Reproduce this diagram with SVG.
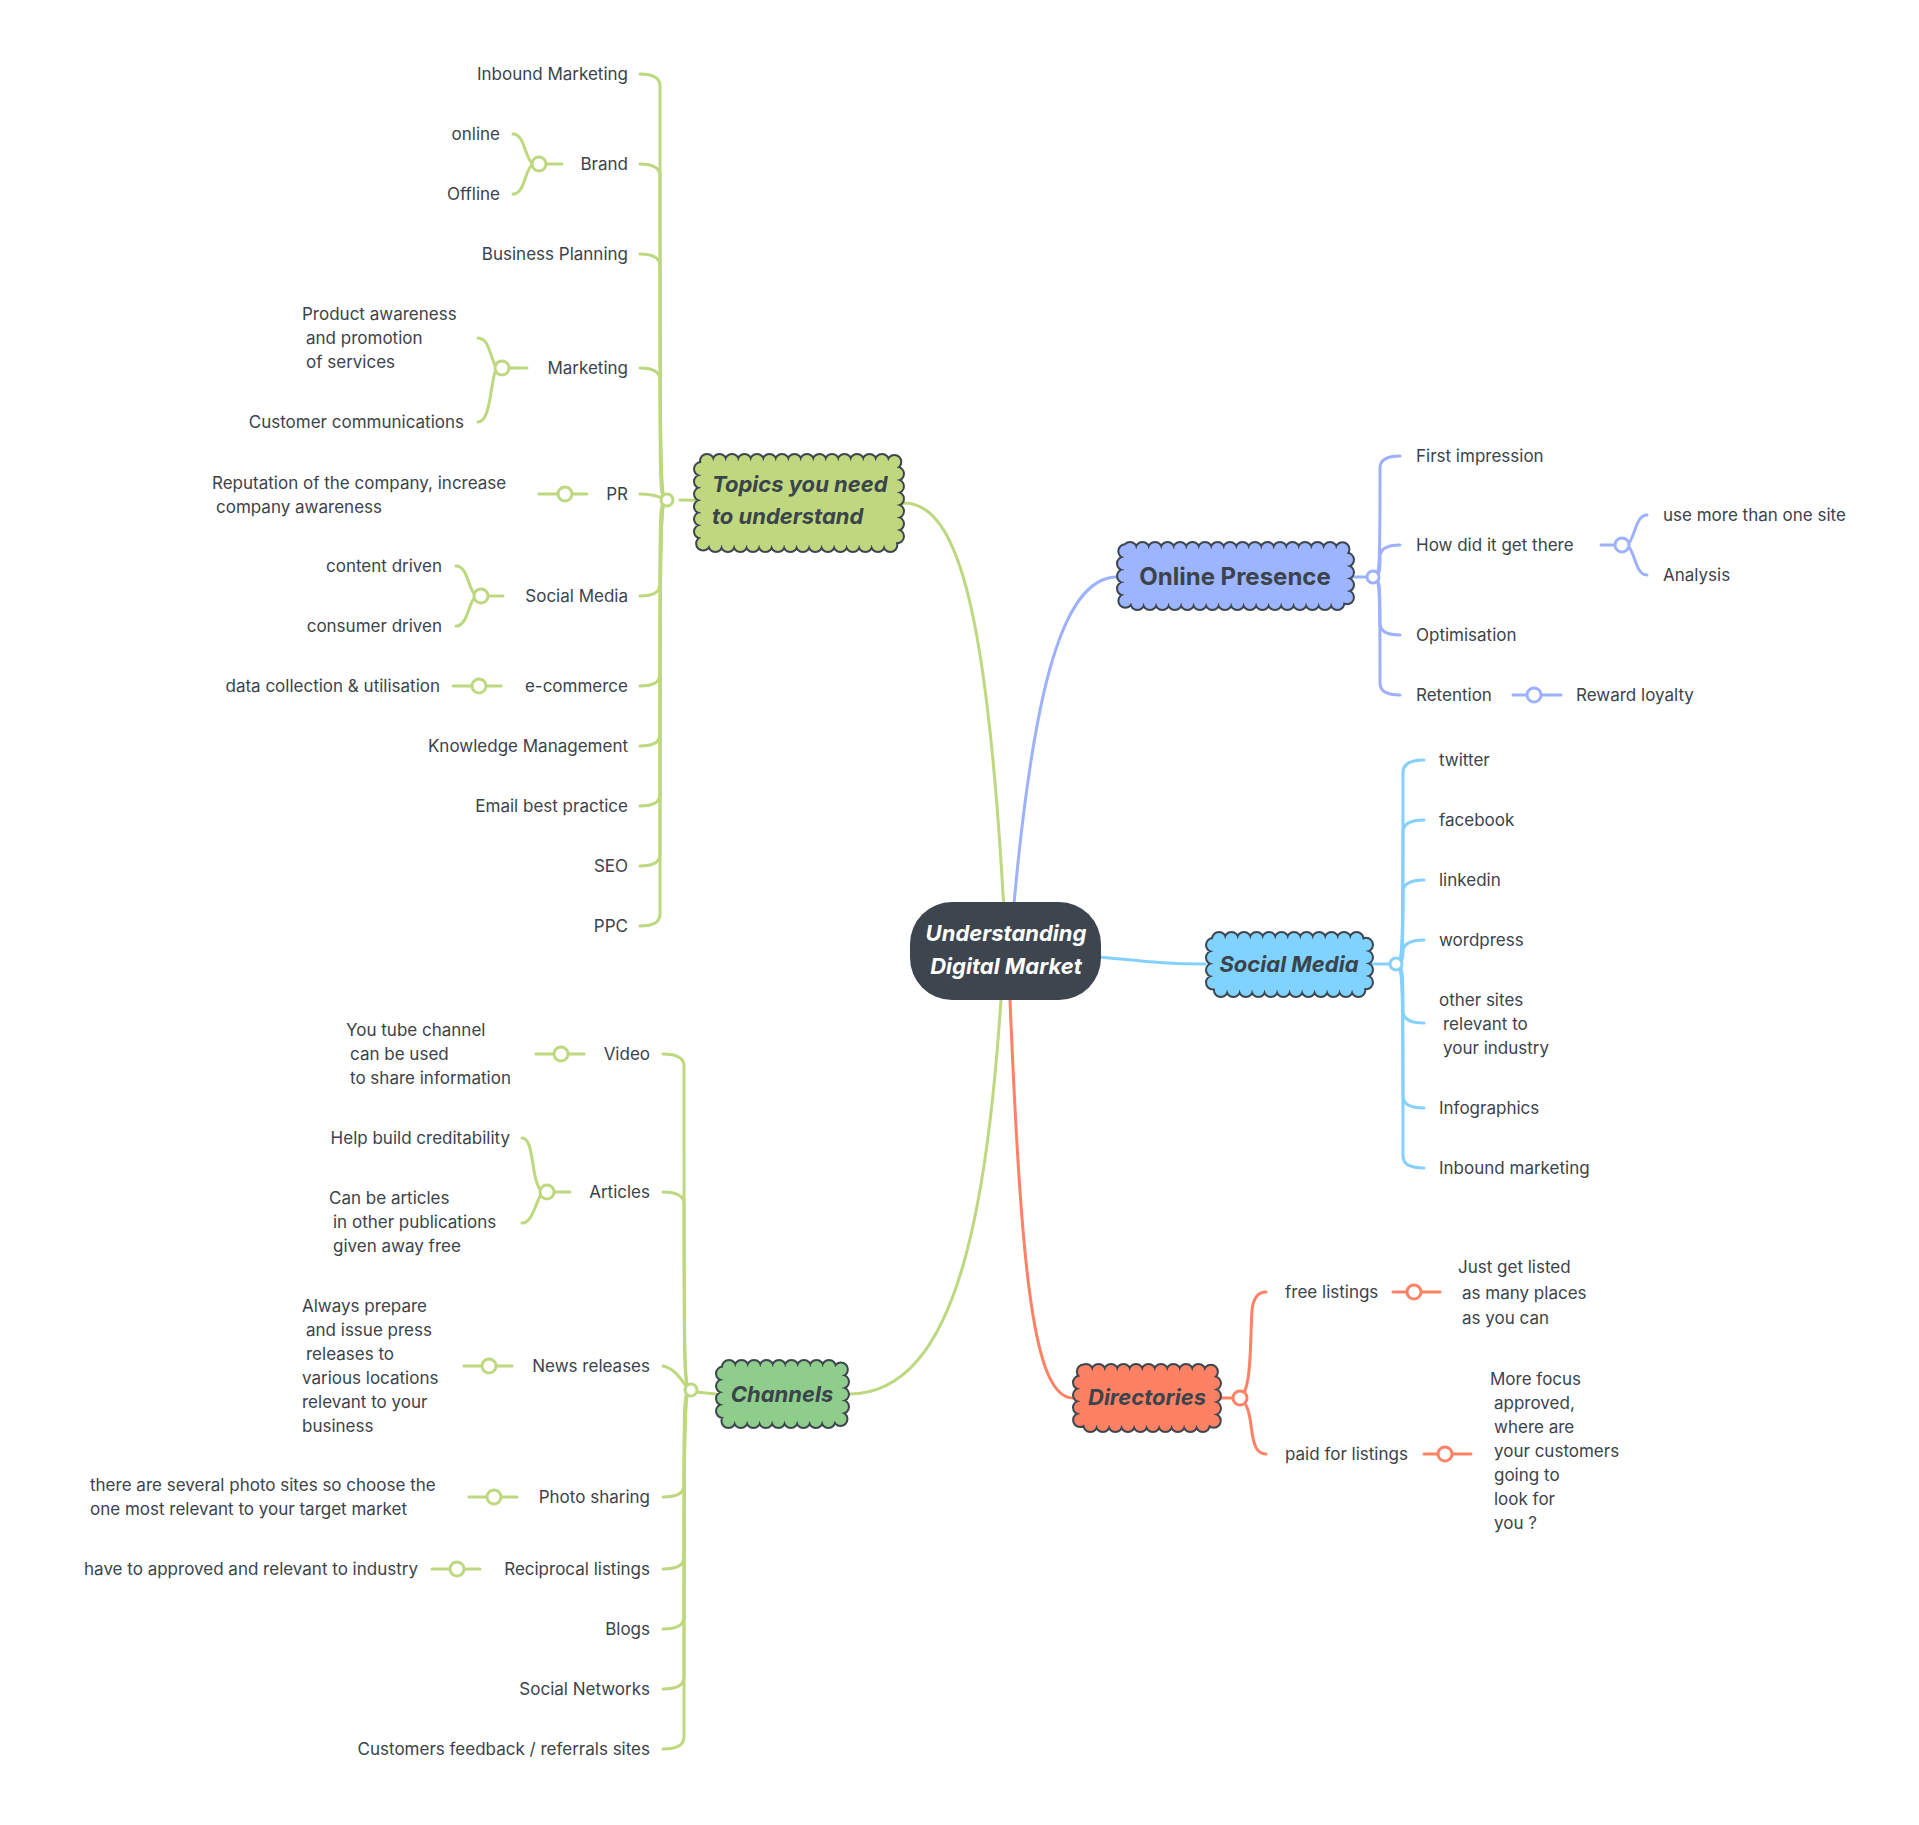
<svg xmlns="http://www.w3.org/2000/svg" width="1919" height="1825" viewBox="0 0 1919 1825">
<style>
text{font-family:Inter,"Liberation Sans",sans-serif;font-size:17px;fill:#3b434b}
.e{text-anchor:end}
.m{text-anchor:middle}
.t{font-style:italic;font-weight:bold;font-size:22px}
.b{font-weight:bold;font-size:24px}
.sd{stroke:#3d454e;stroke-width:16;stroke-dasharray:0 12.5;stroke-linecap:round}
.sf{stroke-width:12;stroke-dasharray:0 12.5;stroke-linecap:round}
path,line{fill:none;stroke-width:3;stroke-linecap:round}
.g{stroke:#bdd87e}.p{stroke:#9db1ff}.c{stroke:#84d0ff}.r{stroke:#ff8266}
circle.j{fill:#fff;stroke-width:3}
</style>
<rect width="1919" height="1825" fill="#fff"/>
<g id="connectors">
<path class="g" d="M1006,950 C990,620 960,503 904,503"/>
<path class="p" d="M1010,950 C1030,700 1060,577 1117,577"/>
<path class="c" d="M1098,957 C1150,962 1170,964 1205,964"/>
<path class="r" d="M1008,952 C1020,1250 1030,1398 1073,1398"/>
<path class="g" d="M1004,952 C990,1200 960,1394 849,1394"/>
<g class="g">
<path d="M904,503 L680,500"/>
<path d="M667,500 C660,500 660,490 660,86 Q660,74 640,74"/>
<path d="M667,500 C660,500 660,490 660,176 Q660,164 640,164"/>
<path d="M667,500 C660,500 660,490 660,266 Q660,254 640,254"/>
<path d="M667,500 C660,500 660,490 660,380 Q660,368 640,368"/>
<path d="M667,500 Q655,494 640,494"/>
<path d="M667,500 C660,500 660,510 660,584 Q660,596 640,596"/>
<path d="M667,500 C660,500 660,510 660,674 Q660,686 640,686"/>
<path d="M667,500 C660,500 660,510 660,734 Q660,746 640,746"/>
<path d="M667,500 C660,500 660,510 660,794 Q660,806 640,806"/>
<path d="M667,500 C660,500 660,510 660,854 Q660,866 640,866"/>
<path d="M667,500 C660,500 660,510 660,914 Q660,926 640,926"/>
<line x1="562" y1="164" x2="545" y2="164"/>
<path d="M533,164 C525,160 525,134 513,134"/><path d="M533,164 C525,168 525,194 513,194"/>
<line x1="527" y1="368" x2="508" y2="368"/>
<path d="M497,368 C490,360 490,338 478,338"/><path d="M497,368 C490,376 492,422 478,422"/>
<line x1="539" y1="494" x2="587" y2="494"/>
<line x1="503" y1="596" x2="487" y2="596"/>
<path d="M476,596 C468,590 468,566 456,566"/><path d="M476,596 C468,602 468,626 456,626"/>
<line x1="453" y1="686" x2="501" y2="686"/>
</g>
<g class="p">
<path d="M1353,577 L1368,577"/>
<path d="M1373,577 C1380,577 1380,570 1380,468 Q1380,456 1400,456"/>
<path d="M1373,577 C1380,577 1380,570 1380,557 Q1380,545 1400,545"/>
<path d="M1373,577 C1380,577 1380,585 1380,623 Q1380,635 1400,635"/>
<path d="M1373,577 C1380,577 1380,585 1380,683 Q1380,695 1400,695"/>
<line x1="1601" y1="545" x2="1617" y2="545"/>
<path d="M1627,545 C1635,540 1635,515 1647,515"/><path d="M1627,545 C1635,550 1635,575 1647,575"/>
<line x1="1513" y1="695" x2="1561" y2="695"/>
</g>
<g class="c">
<path d="M1371,964 L1391,964"/>
<path d="M1396,964 C1403,964 1403,955 1403,772 Q1403,760 1424,760"/>
<path d="M1396,964 C1403,964 1403,955 1403,832 Q1403,820 1424,820"/>
<path d="M1396,964 C1403,964 1403,955 1403,892 Q1403,880 1424,880"/>
<path d="M1396,964 C1403,964 1403,955 1403,952 Q1403,940 1424,940"/>
<path d="M1396,964 C1403,964 1403,975 1403,1011 Q1403,1023 1424,1023"/>
<path d="M1396,964 C1403,964 1403,975 1403,1096 Q1403,1108 1424,1108"/>
<path d="M1396,964 C1403,964 1403,975 1403,1156 Q1403,1168 1424,1168"/>
</g>
<g class="r">
<path d="M1221,1398 L1235,1398"/>
<path d="M1240,1398 C1252,1390 1250,1340 1252,1310 Q1254,1292 1266,1292"/>
<path d="M1240,1398 C1252,1406 1250,1430 1254,1442 Q1257,1454 1266,1454"/>
<line x1="1393" y1="1292" x2="1440" y2="1292"/>
<line x1="1424" y1="1454" x2="1471" y2="1454"/>
</g>
<g class="g">
<path d="M716,1394 L696,1392"/>
<path d="M691,1390 C684,1390 684,1380 684,1066 Q684,1054 663,1054"/>
<path d="M691,1390 C684,1390 684,1380 684,1204 Q684,1192 663,1192"/>
<path d="M691,1390 C684,1388 680,1370 663,1366"/>
<path d="M691,1390 C684,1390 684,1400 684,1485 Q684,1497 663,1497"/>
<path d="M691,1390 C684,1390 684,1400 684,1557 Q684,1569 663,1569"/>
<path d="M691,1390 C684,1390 684,1400 684,1617 Q684,1629 663,1629"/>
<path d="M691,1390 C684,1390 684,1400 684,1677 Q684,1689 663,1689"/>
<path d="M691,1390 C684,1390 684,1400 684,1737 Q684,1749 663,1749"/>
<line x1="536" y1="1054" x2="584" y2="1054"/>
<line x1="570" y1="1192" x2="553" y2="1192"/>
<path d="M542,1192 C530,1180 535,1138 522,1138"/><path d="M542,1192 C535,1205 532,1223 522,1223"/>
<line x1="464" y1="1366" x2="512" y2="1366"/>
<line x1="469" y1="1497" x2="517" y2="1497"/>
<line x1="432" y1="1569" x2="480" y2="1569"/>
</g>
<g fill="#fff">
<circle class="j g" cx="667" cy="500" r="6"/>
<circle class="j g" cx="539" cy="164" r="7"/>
<circle class="j g" cx="502" cy="368" r="7"/>
<circle class="j g" cx="565" cy="494" r="7"/>
<circle class="j g" cx="481" cy="596" r="7"/>
<circle class="j g" cx="479" cy="686" r="7"/>
<circle class="j p" cx="1373" cy="577" r="6"/>
<circle class="j p" cx="1622" cy="545" r="7"/>
<circle class="j p" cx="1534" cy="695" r="7"/>
<circle class="j c" cx="1396" cy="964" r="6"/>
<circle class="j r" cx="1240" cy="1398" r="7"/>
<circle class="j r" cx="1414" cy="1292" r="7"/>
<circle class="j r" cx="1445" cy="1454" r="7"/>
<circle class="j g" cx="691" cy="1390" r="6"/>
<circle class="j g" cx="561" cy="1054" r="7"/>
<circle class="j g" cx="547" cy="1192" r="7"/>
<circle class="j g" cx="489" cy="1366" r="7"/>
<circle class="j g" cx="494" cy="1497" r="7"/>
<circle class="j g" cx="457" cy="1569" r="7"/>
</g>
</g>
<g id="center">
<rect x="910" y="902" width="191" height="98" rx="42" fill="#3d454e"/>
<text class="t m" x="1006" y="941" style="fill:#fff">Understanding</text>
<text class="t m" x="1006" y="974" style="fill:#fff">Digital Market</text>
</g>
<g id="topics">
<rect class="sd" x="701" y="461" width="196" height="84" rx="6" fill="none"/>
<rect class="sf" x="701" y="461" width="196" height="84" rx="6" fill="none" stroke="#bfd87f"/>
<rect x="701" y="461" width="196" height="84" rx="6" fill="#bfd87f"/>
<text class="t" x="712" y="492">Topics you need</text>
<text class="t" x="712" y="524">to understand</text>
</g>
<g id="online-presence">
<rect class="sd" x="1124" y="549" width="223" height="54" rx="6" fill="none"/>
<rect class="sf" x="1124" y="549" width="223" height="54" rx="6" fill="none" stroke="#9db4ff"/>
<rect x="1124" y="549" width="223" height="54" rx="6" fill="#9db4ff"/>
<text class="b m" x="1235" y="585">Online Presence</text>
</g>
<g id="social-media">
<rect class="sd" x="1213" y="939" width="153" height="51" rx="6" fill="none"/>
<rect class="sf" x="1213" y="939" width="153" height="51" rx="6" fill="none" stroke="#80d2ff"/>
<rect x="1213" y="939" width="153" height="51" rx="6" fill="#80d2ff"/>
<text class="t m" x="1289" y="972">Social Media</text>
</g>
<g id="directories">
<rect class="sd" x="1080" y="1371" width="134" height="54" rx="6" fill="none"/>
<rect class="sf" x="1080" y="1371" width="134" height="54" rx="6" fill="none" stroke="#ff8164"/>
<rect x="1080" y="1371" width="134" height="54" rx="6" fill="#ff8164"/>
<text class="t m" x="1147" y="1405">Directories</text>
</g>
<g id="channels">
<rect class="sd" x="723" y="1367" width="119" height="54" rx="6" fill="none"/>
<rect class="sf" x="723" y="1367" width="119" height="54" rx="6" fill="none" stroke="#8ecd8b"/>
<rect x="723" y="1367" width="119" height="54" rx="6" fill="#8ecd8b"/>
<text class="t m" x="782" y="1402">Channels</text>
</g>
<g id="topics-children">
<text class="e" x="628" y="80">Inbound Marketing</text>
<text class="e" x="628" y="170">Brand</text>
<text class="e" x="500" y="140">online</text>
<text class="e" x="500" y="200">Offline</text>
<text class="e" x="628" y="260">Business Planning</text>
<text class="e" x="628" y="374">Marketing</text>
<text x="302" y="320">Product awareness</text>
<text x="306" y="344">and promotion</text>
<text x="306" y="368">of services</text>
<text class="e" x="464" y="428">Customer communications</text>
<text class="e" x="628" y="500">PR</text>
<text x="212" y="489">Reputation of the company, increase</text>
<text x="216" y="513">company awareness</text>
<text class="e" x="628" y="602">Social Media</text>
<text class="e" x="442" y="572">content driven</text>
<text class="e" x="442" y="632">consumer driven</text>
<text class="e" x="628" y="692">e-commerce</text>
<text class="e" x="440" y="692">data collection &amp; utilisation</text>
<text class="e" x="628" y="752">Knowledge Management</text>
<text class="e" x="628" y="812">Email best practice</text>
<text class="e" x="628" y="872">SEO</text>
<text class="e" x="628" y="932">PPC</text>
</g>
<g id="online-children">
<text x="1416" y="462">First impression</text>
<text x="1416" y="551">How did it get there</text>
<text x="1663" y="521">use more than one site</text>
<text x="1663" y="581">Analysis</text>
<text x="1416" y="641">Optimisation</text>
<text x="1416" y="701">Retention</text>
<text x="1576" y="701">Reward loyalty</text>
</g>
<g id="social-children">
<text x="1439" y="766">twitter</text>
<text x="1439" y="826">facebook</text>
<text x="1439" y="886">linkedin</text>
<text x="1439" y="946">wordpress</text>
<text x="1439" y="1006">other sites</text>
<text x="1443" y="1030">relevant to</text>
<text x="1443" y="1054">your industry</text>
<text x="1439" y="1114">Infographics</text>
<text x="1439" y="1174">Inbound marketing</text>
</g>
<g id="directories-children">
<text x="1285" y="1298">free listings</text>
<text x="1285" y="1460">paid for listings</text>
<text x="1458" y="1273">Just get listed</text>
<text x="1462" y="1299">as many places</text>
<text x="1462" y="1324">as you can</text>
<text x="1490" y="1385">More focus</text>
<text x="1494" y="1409">approved,</text>
<text x="1494" y="1433">where are</text>
<text x="1494" y="1457">your customers</text>
<text x="1494" y="1481">going to</text>
<text x="1494" y="1505">look for</text>
<text x="1494" y="1529">you ?</text>
</g>
<g id="channels-children">
<text class="e" x="650" y="1060">Video</text>
<text x="346" y="1036">You tube channel</text>
<text x="350" y="1060">can be used</text>
<text x="350" y="1084">to share information</text>
<text class="e" x="650" y="1198">Articles</text>
<text class="e" x="510" y="1144">Help build creditability</text>
<text x="329" y="1204">Can be articles</text>
<text x="333" y="1228">in other publications</text>
<text x="333" y="1252">given away free</text>
<text class="e" x="650" y="1372">News releases</text>
<text x="302" y="1312">Always prepare</text>
<text x="306" y="1336">and issue press</text>
<text x="306" y="1360">releases to</text>
<text x="302" y="1384">various  locations</text>
<text x="302" y="1408">relevant  to your</text>
<text x="302" y="1432">business</text>
<text class="e" x="650" y="1503">Photo sharing</text>
<text x="90" y="1491">there are several photo sites so choose the</text>
<text x="90" y="1515">one most relevant to your target market</text>
<text class="e" x="650" y="1575">Reciprocal listings</text>
<text class="e" x="418" y="1575">have to approved and relevant to industry</text>
<text class="e" x="650" y="1635">Blogs</text>
<text class="e" x="650" y="1695">Social Networks</text>
<text class="e" x="650" y="1755">Customers feedback / referrals sites</text>
</g>
</svg>
